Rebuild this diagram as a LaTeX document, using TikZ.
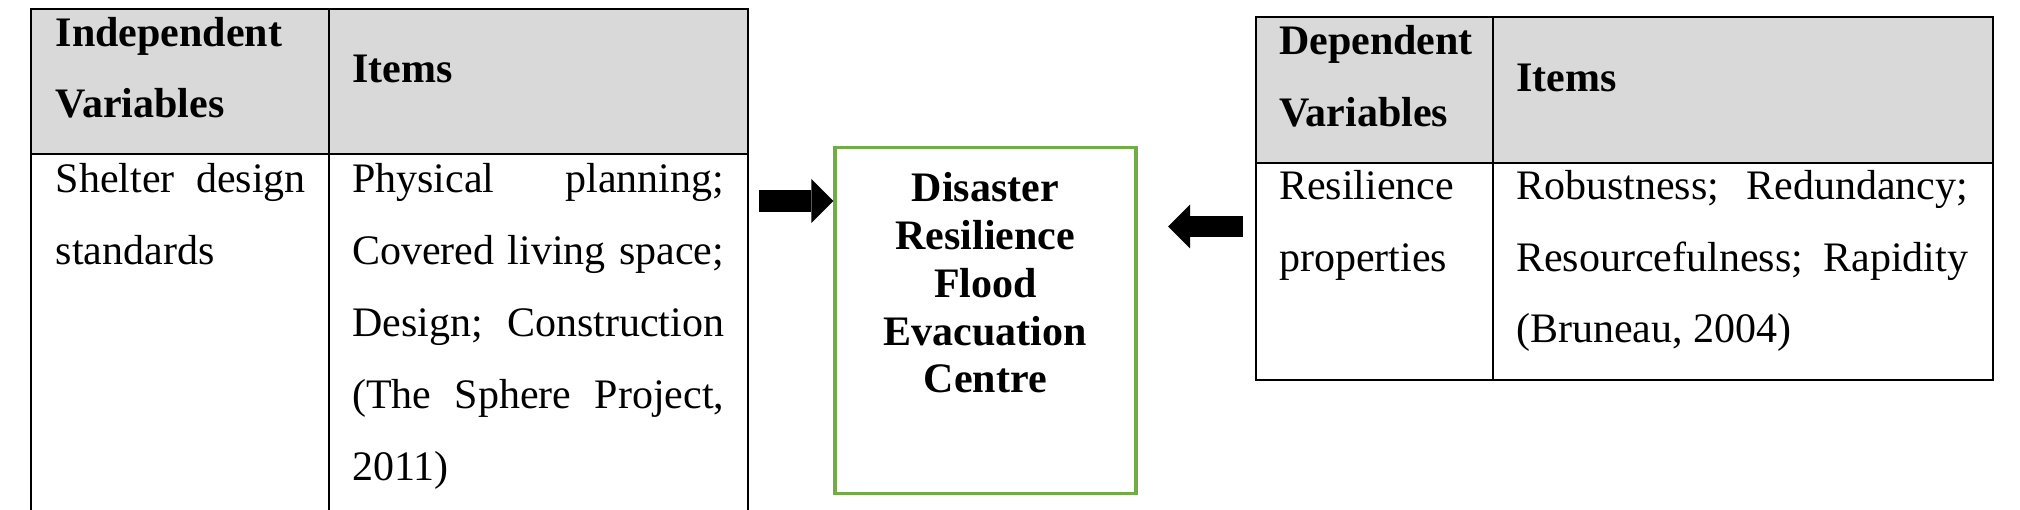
\documentclass[tikz,border=0pt]{standalone}
\usepackage{fontspec}
\setmainfont{Liberation Serif}
\usetikzlibrary{arrows.meta}
\definecolor{hdr}{HTML}{D9D9D9}
\definecolor{grn}{HTML}{70AD47}
\newcommand{\jline}[2]{\hbox to #1{#2}}
\newcommand{\fline}[2]{\hbox to #1{#2\hfil}}
\newcommand{\ctrline}[2]{\hbox to #1{\hfil#2\hfil}}
\begin{document}
\begin{tikzpicture}[x=1pt,y=-1pt,
  txt/.style={anchor=base west, inner sep=0pt, font=\fontsize{42}{72}\selectfont},
  tbl/.style={line width=2pt, black},
  blockarrow/.style={line width=21.5pt, -{Triangle[length=22pt,width=44pt,line width=0pt]}}]
\useasboundingbox (0,0) rectangle (2020,510);
% left table
\fill[hdr] (31,9) rectangle (748,154);
\draw[tbl] (31,510) -- (31,9) -- (748,9) -- (748,510);
\draw[tbl] (329,9) -- (329,510);
\draw[tbl] (31,154) -- (748,154);
% right table
\fill[hdr] (1256,17) rectangle (1993,163);
\draw[tbl] (1256,17) rectangle (1993,380);
\draw[tbl] (1493,17) -- (1493,380);
\draw[tbl] (1256,163) -- (1993,163);
% left table text
\node[txt] (ivh) at (55.6,47) {\vtop{\baselineskip=71pt\bfseries\hbox{Independent}\hbox{Variables}}};
\node[txt] (ith) at (352,83) {\textbf{Items}};
\node[txt] (ivb) at (55.6,193) {\vtop{\baselineskip=72pt \jline{250pt}{Shelter design}\fline{250pt}{standards}}};
\node[txt] (itb) at (352,193) {\vtop{\baselineskip=72pt \jline{372pt}{Physical planning;}\jline{372pt}{Covered living space;}\jline{372pt}{Design; Construction}\jline{372pt}{(The Sphere Project,}\fline{372pt}{2011)}}};
% right table text
\node[txt] (dvh) at (1279,55) {\vtop{\baselineskip=72pt\bfseries\hbox{Dependent}\hbox{Variables}}};
\node[txt] (dth) at (1516,92) {\textbf{Items}};
\node[txt] (dvb) at (1279,200) {\vtop{\baselineskip=72pt\hbox{Resilience}\hbox{properties}}};
\node[txt] (dtb) at (1516,200) {\vtop{\baselineskip=71.5pt\jline{452pt}{Robustness; Redundancy;}\jline{452pt}{Resourcefulness; Rapidity}\fline{452pt}{(Bruneau, 2004)}}};
% green box
\node[draw=grn, line width=3.5pt, minimum width=300.8pt, minimum height=346pt, inner sep=0pt] (box) at (985.4,320.3) {};
\node[anchor=base, inner sep=0pt, font=\fontsize{42}{48}\selectfont\bfseries] (boxtxt) at (985.4,202)
  {\vtop{\baselineskip=47.75pt \ctrline{300pt}{Disaster}\ctrline{300pt}{Resilience}\ctrline{300pt}{Flood}\ctrline{300pt}{Evacuation}\ctrline{300pt}{Centre}}};
% arrows
\coordinate (la) at (759,201);
\coordinate (ra) at (1243,226.5);
\coordinate (rt) at (1168,226.5);
\draw[blockarrow] (la) -- (la -| box.west);
\draw[blockarrow] (ra) -- (rt);
\end{tikzpicture}
\end{document}
